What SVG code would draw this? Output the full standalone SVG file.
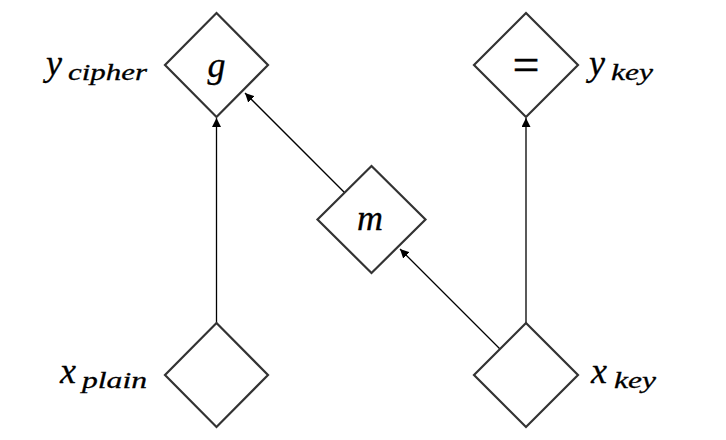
<svg xmlns="http://www.w3.org/2000/svg" width="726" height="440" viewBox="0 0 726 440">
<style>
.node{fill:#fff;stroke:#333;stroke-width:2.2}
.edge{stroke:#000;stroke-width:1.3;fill:none}
text{fill:#000;stroke:#000;stroke-width:0.3}
</style>
<defs>
<marker id="arr" viewBox="0 0 10 10" refX="10" refY="5" markerWidth="9" markerHeight="9" markerUnits="userSpaceOnUse" orient="auto">
<path d="M0,0 L10,5 L0,10 Z" fill="#000"/>
</marker>
</defs>
<g id="connectors">
<line class="edge" x1="216.5" y1="323" x2="216.5" y2="118" marker-end="url(#arr)"/>
<line class="edge" x1="526" y1="323" x2="526" y2="118" marker-end="url(#arr)"/>
<line class="edge" x1="500" y1="349" x2="400" y2="249" marker-end="url(#arr)"/>
<line class="edge" x1="344.5" y1="192.5" x2="245" y2="93" marker-end="url(#arr)"/>
</g>
<g font-family="Liberation Serif, Times New Roman, serif" font-style="italic">
<g id="g-node">
<polygon class="node" points="216.5,13 268,65 216.5,117 165,65"/>
<text x="216.5" y="77" font-size="36" text-anchor="middle">g</text>
</g>
<g id="eq-node">
<polygon class="node" points="526,13 578,65 526,117 474,65"/>
<text x="526" y="81" font-size="48" text-anchor="middle" font-style="normal" stroke-width="0">=</text>
</g>
<g id="m-node">
<polygon class="node" points="371.5,166 425.5,219.5 371.5,273 317.5,219.5"/>
<text x="370" y="230" font-size="36" text-anchor="middle">m</text>
</g>
<g id="xplain-node">
<polygon class="node" points="216.5,323 268,375 216.5,427 165,375"/>
</g>
<g id="xkey-node">
<polygon class="node" points="526,323 578,375 526,427 474,375"/>
</g>
<g id="labels" font-size="36">
<text><tspan x="46" y="75">y</tspan><tspan font-size="24" x="68" y="80" textLength="79" lengthAdjust="spacingAndGlyphs">cipher</tspan></text>
<text><tspan x="589" y="75">y</tspan><tspan font-size="24" x="611" y="80" textLength="42" lengthAdjust="spacingAndGlyphs">key</tspan></text>
<text><tspan x="60" y="383">x</tspan><tspan font-size="24" x="82" y="388" textLength="65" lengthAdjust="spacingAndGlyphs">plain</tspan></text>
<text><tspan x="591" y="383">x</tspan><tspan font-size="24" x="614" y="388" textLength="42" lengthAdjust="spacingAndGlyphs">key</tspan></text>
</g>
</g>
</svg>
